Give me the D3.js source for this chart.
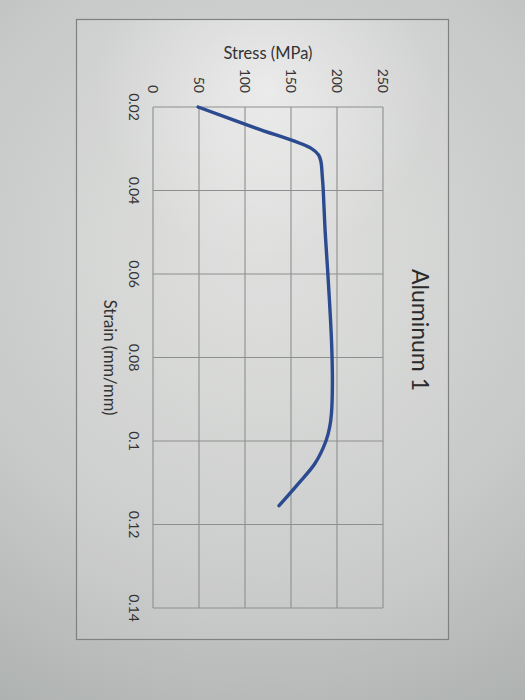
<!DOCTYPE html>
<html>
<head>
<meta charset="utf-8">
<script src="https://cdn.jsdelivr.net/npm/d3@7"></script>
<style>
  html, body { margin: 0; padding: 0; background: #c4c6c5; }
  svg { display: block; }
</style>
</head>
<body>
<svg id="chart" width="525" height="700"></svg>
<script>
// values (chart is photographed rotated 90deg clockwise)
const strain = [0.02, 0.025, 0.0299, 0.0315, 0.033, 0.0366, 0.0397, 0.0493, 0.0597, 0.0758, 0.0861, 0.0933, 0.0967, 0.1, 0.1054, 0.1102, 0.1155];
const stress = [49, 111, 172, 180, 182.5, 184, 185, 187, 190, 194, 195, 194, 192, 188, 176, 158, 137];
const strainTicks = [0.02, 0.04, 0.06, 0.08, 0.1, 0.12, 0.14];
const stressTicks = [0, 50, 100, 150, 200, 250];
const title = "Aluminum 1";
const xTitle = "Strain (mm/mm)";
const yTitle = "Stress (MPa)";

const svg = d3.select("#chart");
const font = "Lato, 'Open Sans', sans-serif";

// photo background
const defs = svg.append("defs");
const bg = defs.append("radialGradient").attr("id", "bg")
  .attr("gradientUnits", "userSpaceOnUse")
  .attr("cx", 260).attr("cy", 250).attr("r", 580);
bg.append("stop").attr("offset", 0).attr("stop-color", "#dcdddb");
bg.append("stop").attr("offset", 0.55).attr("stop-color", "#c7c9c8");
bg.append("stop").attr("offset", 1).attr("stop-color", "#a7abaa");

const glare = defs.append("radialGradient").attr("id", "glare")
  .attr("gradientUnits", "userSpaceOnUse")
  .attr("cx", 265).attr("cy", 90).attr("r", 170);
glare.append("stop").attr("offset", 0).attr("stop-color", "#ffffff").attr("stop-opacity", 0.5);
glare.append("stop").attr("offset", 1).attr("stop-color", "#ffffff").attr("stop-opacity", 0);

svg.append("rect").attr("width", 525).attr("height", 700).attr("fill", "url(#bg)");

// chart area border
svg.append("rect")
  .attr("x", 76.5).attr("y", 19.5).attr("width", 372).attr("height", 620)
  .attr("fill", "#ffffff").attr("fill-opacity", 0.1)
  .attr("stroke", "#7e8180").attr("stroke-width", 1.2);
svg.append("rect").attr("x", 77).attr("y", 20).attr("width", 371).attr("height", 619)
  .attr("fill", "url(#glare)");

// plot area: stress runs left->right, strain runs top->bottom
const plot = { left: 153, right: 383, top: 107, bottom: 608 };

const x = d3.scaleLinear().domain([0, 250]).range([plot.left, plot.right]);
const y = d3.scaleLinear().domain([0.02, 0.14]).range([plot.top, plot.bottom]);

const g = svg.append("g");

g.selectAll("line.vgrid").data(stressTicks).join("line")
  .attr("class", "vgrid")
  .attr("x1", d => x(d)).attr("x2", d => x(d))
  .attr("y1", plot.top).attr("y2", plot.bottom)
  .attr("stroke", "#8d8f8e").attr("stroke-width", 1.1);

g.selectAll("line.hgrid").data(strainTicks).join("line")
  .attr("class", "hgrid")
  .attr("x1", plot.left).attr("x2", plot.right)
  .attr("y1", d => y(d)).attr("y2", d => y(d))
  .attr("stroke", "#8d8f8e").attr("stroke-width", 1.1);

// stress tick labels (above the plot, rotated)
g.selectAll("text.ylab").data(stressTicks).join("text")
  .attr("class", "ylab")
  .attr("transform", d => `translate(${x(d)},93) rotate(90)`)
  .attr("text-anchor", "end")
  .attr("dy", "0.35em")
  .attr("font-family", font).attr("font-size", 14)
  .attr("fill", "#333")
  .text(d => d);

// strain tick labels (left of the plot, rotated)
g.selectAll("text.xlab").data(strainTicks).join("text")
  .attr("class", "xlab")
  .attr("transform", d => `translate(139,${y(d)}) rotate(90)`)
  .attr("text-anchor", "middle")
  .attr("dy", "0.72em")
  .attr("font-family", font).attr("font-size", 14)
  .attr("fill", "#333")
  .text(d => d);

// axis titles
g.append("text")
  .attr("x", x(125)).attr("y", 59)
  .attr("text-anchor", "middle")
  .attr("font-family", font).attr("font-size", 16.5)
  .attr("fill", "#333")
  .text(yTitle);

g.append("text")
  .attr("transform", `translate(116,${y(0.08)}) rotate(90)`)
  .attr("text-anchor", "middle")
  .attr("dy", "0.74em")
  .attr("font-family", font).attr("font-size", 16.5)
  .attr("fill", "#333")
  .text(xTitle);

// chart title
g.append("text")
  .attr("transform", "translate(429,330) rotate(90)")
  .attr("text-anchor", "middle")
  .attr("dy", "0.72em")
  .attr("font-family", font).attr("font-size", 23)
  .attr("fill", "#2a2a2a")
  .text(title);

// stress-strain curve
const pts = strain.map((s, i) => [s, stress[i]]);
const line = d3.line()
  .x(d => x(d[1]))
  .y(d => y(d[0]))
  .curve(d3.curveCatmullRom.alpha(0.5));

g.append("path")
  .datum(pts)
  .attr("d", line)
  .attr("fill", "none")
  .attr("stroke", "#2b4a8f")
  .attr("stroke-width", 3.4)
  .attr("stroke-linecap", "round")
  .attr("stroke-linejoin", "round");
</script>
</body>
</html>
